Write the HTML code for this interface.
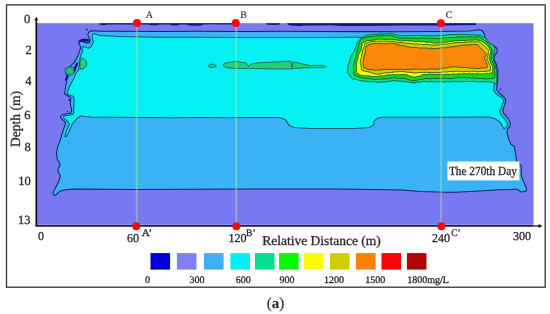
<!DOCTYPE html>
<html><head><meta charset="utf-8"><style>
html,body{margin:0;padding:0;background:#fff;overflow:hidden;}
svg{display:block;filter:blur(0.35px);}
text{font-family:"Liberation Serif","Times New Roman",serif;fill:#2a2a2a;stroke:#2a2a2a;stroke-width:0.3px;text-rendering:geometricPrecision;}
</style></head><body>
<svg width="550" height="314" viewBox="0 0 550 314">
<rect x="0" y="0" width="550" height="314" fill="#fff"/>
<rect x="6.5" y="4.9" width="538.7" height="282.3" fill="none" stroke="#333" stroke-width="1.3"/>
<rect x="37" y="23.2" width="496.5" height="201.6" fill="#7878f2"/>
<polygon points="91.1,30.8 100,31.3 120,31.2 160,31.4 200,31.2 240,31.5 280,31.3 320,31.6 360,31.6 400,31.8 440,31.5 470,31 479,29.8 481.9,30.4 484.3,33.9 485.5,39.8 489,43.4 493.7,45.7 497,48.5 497,52.5 494.9,55.2 493.6,58.5 496.2,64 498,71 497.4,82.6 496.5,89.3 499.3,93.2 504.1,97 505.9,100 504.6,105.1 502.7,110.2 504,114 508.5,119.1 510.4,123.6 509.7,126.8 507.2,129.3 507.2,133.1 509.1,140 511.1,144.5 514.5,146.7 515.6,154.5 516.7,161.2 521.2,165.7 521.2,174.6 522.3,179 524.5,183.5 526.7,189.1 525.6,191.3 521.2,192 516.7,189.1 508.9,189.7 500,189.7 491.5,190.2 470,191.5 455.2,192.2 446,192.2 420.6,191.6 402.5,190 337,189 250,189 137,189.5 73.4,189.1 64.1,190.1 59.3,191.6 55.5,195.4 53,194.5 53.6,191.6 56.5,185.9 59.3,180.2 60.3,175.4 58,171.5 58,168.7 60.3,164.9 57.4,159.1 56.5,153.4 57.4,147.6 60.3,140 62.2,133.4 64.5,126.7 65.6,122.3 61.7,118.9 60.6,116.7 62.8,114.5 70.6,113.3 71.7,110 70.3,104.1 70.9,97.7 67.7,95.8 64.6,93.9 65.4,88 66.5,82.1 67,75.6 66,74 65.4,71.3 67,68.1 70.8,65.9 74.1,62.6 76.2,59.4 77.7,56 78.7,53.7 79.6,50.8 80.6,48 80.1,45.6 78.7,43.7 79.6,41.8 81.6,41.3 84.4,42.2 87.8,43.2 89.7,42.2 90.1,39.4 88.7,37 87.8,34.6 88.7,32.2" fill="#3cb2f6" stroke="#0a2a60" stroke-width="1.05" stroke-linejoin="round"/>
<polygon points="94,33.6 100,35.4 120,36.6 160,37.2 200,37.3 240,37.6 280,37.5 320,37.6 350,37.3 400,37.5 450,37.5 475,37.5 486,40 492,46 494,55 493,65 495,76 494.6,82.6 493.6,90.3 496.5,94.1 501.5,97.5 504,100 502.1,105.1 499.6,111.5 500.8,114.6 505.3,119.7 507.8,124.2 506.6,127.4 504,128.7 502.7,126.8 500.2,122.3 495.7,119.1 490,117.2 485,117 440,117.3 383.6,117.2 377.9,117.9 374.1,121.2 373.6,125 369.3,127.4 355,128.4 310,128.4 294.8,127.4 289.1,125.5 287.7,122.7 285.3,119.8 279.5,117.4 270,117.4 230,117.8 200,117.6 170,117.8 137,117.6 110,117.3 90,116.9 80.6,116 77.3,118.4 73.4,122.3 71.7,125 70,129.5 66.7,136.2 65,136.8 65.6,133.4 67.8,127.8 69.5,123.9 67.3,121.1 63.4,117.8 63.9,116.1 72.8,114.5 73.5,113 74.1,101.6 73.5,96.5 67.1,93.9 69.3,87 71.9,82.1 74.1,77.8 75.7,73.5 78.9,69.7 80,58.3 81.1,54 82.5,51.8 82,48.9 82.5,46.5 85.4,47 88.2,48.4 91.1,46.5 93.5,42.2 92.5,38.4 92,35.1" fill="#04f0f2" stroke="#0b5a70" stroke-width="1.05" stroke-linejoin="round"/>
<polygon points="354.5,51 355.03,48.79 355.93,46.71 356.51,44.52 357.3,42.4 359.3,40.3 361.2,38.1 363.14,37.25 364.87,35.96 366.9,35.3 368.91,34.75 371.01,35.11 373.01,34.49 375.05,34.26 377.15,34.57 379.15,33.99 381.2,33.8 383.56,34.04 385.92,33.78 388.28,33.9 390.64,33.56 393,33.8 395.31,34.52 397.6,35.32 400,35.7 402,35.68 404,35.79 406,35.7 407.99,35.23 410,35.5 412.14,35.68 414.29,35.56 416.43,35.36 418.57,35.17 420.71,35.76 422.86,35.48 425,35.5 427,35.69 429,35.83 431,35.75 433,35.93 435,35.59 437,35.7 439.18,35.76 441.33,35.36 443.52,35.55 445.68,35.36 447.81,34.67 450,34.8 451.99,34.49 453.99,34.48 456.01,34.95 458,34.52 460,34.5 462,34.65 464,34.48 466,34.69 468,34.66 470,34.8 472,34.74 474,34.94 476,34.98 477.99,35.24 480,35 481.94,36.11 483.87,37.27 486,38 487.29,40.39 489,42.5 490.47,43.95 492.26,44.93 494,46 494.73,48.2 495,50.5 494.01,52.93 493.5,55.5 493,58 493.36,60.1 494.06,62.09 495,64 495.45,66.01 495.85,68.04 496.5,70 496.87,71.98 496.6,74.02 497,76 496.78,78.5 496.82,81.01 496.5,83.5 494.26,83.3 492.22,82.26 490,82 488.01,81.58 485.99,82.13 484.01,81.55 482,81.74 480,81.6 477.86,81.83 475.71,81.72 473.57,81.37 471.43,81.28 469.28,81.85 467.14,81.43 465,81.5 462.86,81.86 460.71,81.43 458.57,81.75 456.42,81.4 454.28,81.38 452.14,81.75 450,81.8 447.84,81.42 445.66,81.87 443.5,82 441.33,81.6 439.16,81.96 437,81.6 435,81.8 433,81.63 431,81.47 429,81.77 427,81.84 425,81.5 422.77,81.54 420.62,82.23 418.36,82.08 416.16,82.42 414,83 411.74,82.71 409.5,82.28 407.25,81.86 405,81.5 403.01,81.28 401,81.2 399,81.11 397,80.95 395.02,80.61 393,80.8 390.67,81.13 388.34,81.51 386,81.8 383.62,81.75 381.26,82.18 378.88,82.24 376.5,82.2 374.48,81.67 372.39,81.79 370.33,81.57 368.24,81.74 366.21,81.26 364.16,80.94 362.1,80.8 359.66,80.65 357.37,79.77 354.99,79.28 352.6,78.9 350.76,77.2 349.47,75.04 347.8,73.2 347.78,70.97 347.93,68.73 347.8,66.5 348.34,64.55 349.2,62.71 349.86,60.8 350.02,58.73 350.67,56.82 351.6,55 353.15,53.07" fill="#10dc8c" stroke="#1c4a1c" stroke-opacity="0.8" stroke-width="1" stroke-linejoin="round"/>
<polygon points="357.8,49.1 358.22,46.9 358.73,44.73 359.53,42.63 360.2,40.5 362.48,38.84 365,37.6 367.25,36.92 369.59,36.77 371.95,36.75 374.23,36.29 376.5,35.7 378.56,35.89 380.62,35.51 382.69,35.73 384.75,35.54 386.81,35.47 388.88,35.42 390.94,35.5 393,35.7 395.24,36.78 397.59,37.52 400,38.1 402,38.29 404,38.27 406,37.83 408,37.89 410,38 412.14,38.1 414.28,38.19 416.43,38.29 418.57,38.32 420.72,37.78 422.86,38.16 425,38.1 426.99,38.3 429,38.27 431.01,38.12 433,38.41 435.01,38.23 437,38.6 439.19,38.72 441.35,38.49 443.5,38.08 445.65,37.73 447.86,37.97 450,37.5 452,37.43 454.02,37.53 456.01,37.38 458,37.03 460,36.9 462,36.86 464,37.01 466,36.91 468,36.74 470,37 472,36.9 474,37.3 476.01,36.8 478.01,36.84 480,37.2 481.7,38.47 483.59,39.47 485.24,40.82 487,42 488.12,43.69 489.29,45.34 490.01,47.29 491.58,48.68 492.5,50.5 492.06,52.85 491.7,55.21 491,57.5 491.66,59.78 492.5,62 493.65,64.44 494.5,67 494.73,68.99 494.58,71.01 495,72.99 495,75 494,78.6 492,78.54 490,78.29 488,78.84 486,78.85 484,78.72 482,78.33 480,78.5 477.86,78.28 475.7,78.4 473.56,78.19 471.41,78.15 469.28,77.81 467.12,77.96 465,77.5 462.85,77.51 460.7,77.51 458.55,77.61 456.42,77.91 454.26,77.89 452.17,78.69 450,78.5 447.83,78.66 445.66,78.21 443.5,78.36 441.33,78.63 439.16,78.27 437,78.6 435,78.5 433,78.34 431,78.69 429,78.75 427,78.56 425,78.5 422.85,79.21 420.62,79.5 418.33,79.56 416.22,80.46 414,80.8 411.66,80.56 409.42,79.96 407.19,79.3 405,78.5 403.01,78.2 401,78.4 398.99,78.35 396.99,78.38 395.02,77.66 393,77.9 390.94,78.14 388.89,78.48 386.84,78.77 384.78,78.96 382.71,79.07 380.61,78.9 378.58,79.46 376.5,79.4 374.41,79.51 372.39,78.98 370.31,78.93 368.31,78.2 366.19,78.59 364.16,78.09 362.1,77.9 360.13,77.14 358.03,76.81 356.12,75.85 354,75.6 353.86,73.33 353.57,71.06 353.56,68.78 353.5,66.5 353.66,64.13 354.41,61.89 354.77,59.56 355.69,57.36 355.9,55 356.75,53.1 357.17,51.07" fill="#14d820" stroke="#1c4a1c" stroke-opacity="0.8" stroke-width="1" stroke-linejoin="round"/>
<polygon points="361.2,49.1 361.73,46.26 362.1,43.4 364.59,42.09 366.9,40.5 368.96,40.51 371.02,40.41 373.04,40.07 375.1,39.99 377.08,39.17 379.15,39.28 381.2,39.1 383.55,39.51 385.92,39.4 388.27,39.68 390.65,39.23 393,39.6 395.34,39.98 397.7,40.23 400,40.8 402,40.87 404,40.93 406.01,40.58 408,40.76 410,41 412.15,40.99 414.27,41.58 416.42,41.61 418.59,41.33 420.7,41.92 422.87,41.6 425,42 426.99,42.28 429.03,42.14 431.03,42.25 432.97,43.06 435.02,42.8 437,43.2 439.14,42.72 441.38,42.97 443.53,42.61 445.65,41.92 447.88,42.1 450,41.5 452,41.31 454.01,41.18 455.98,40.63 458.03,40.93 460,40.4 462,40.49 464.01,40.65 466.01,40.56 468,40.1 470,40.2 472.25,40.13 474.5,40.02 476.75,40.03 479,40.3 481.48,41.26 483.73,42.64 486,44 487.19,45.67 488.78,47.04 489.65,48.95 491,50.5 490.44,52.86 489.79,55.2 489,57.5 489.54,59.82 490.5,62 491.51,64.24 492.5,66.5 492.66,68.66 492.58,70.83 492.6,73 490.49,73.02 488.42,73.64 486.27,73.17 484.23,74 482.09,73.66 480,74 477.87,73.69 475.7,74.19 473.58,73.58 471.43,73.81 469.29,73.59 467.13,73.91 465,73.5 462.88,73.96 460.73,74.01 458.55,73.61 456.44,74.28 454.27,74.04 452.12,74.06 450,74.5 447.83,74.19 445.67,74.61 443.5,74.6 441.33,74.48 439.17,74.31 437,74.5 435,74.74 433,74.26 431,74.19 429,74.11 426.99,74.66 425,74.3 422.71,74.64 420.68,75.85 418.43,76.33 416.18,76.79 414,77.5 411.84,76.47 409.46,76.11 407.34,74.97 405,74.5 403,74.49 401,74.66 399,74.68 397,74.79 395,74.88 393,74.6 390.97,75.08 388.86,74.94 386.77,74.97 384.78,75.79 382.72,76.1 380.59,75.69 378.56,76.24 376.5,76.5 374.44,76.44 372.37,76.43 370.33,76.05 368.29,75.76 366.21,75.89 364.15,75.78 362.1,75.6 360.08,75.09 358.41,73.73 356.4,73.2 356.07,71.05 356.4,68.9 356.64,66.75 356.4,64.6 356.62,62.15 357.51,59.83 358.13,57.46 358.3,55 359.35,53.07 360.41,51.16" fill="#f8f810" stroke="#1c4a1c" stroke-opacity="0.8" stroke-width="1" stroke-linejoin="round"/>
<polygon points="363.1,49.1 363.93,47.26 364.58,45.37 365,43.4 367.23,42.76 369.42,41.97 371.7,41.5 374.06,41.03 376.46,41.36 378.82,41.1 381.2,41 383.56,41.24 385.92,41.03 388.28,41.37 390.64,41.08 393,41.3 395.3,41.91 397.64,42.26 400,42.5 402.01,42.64 404,42.93 405.99,43.23 408.02,43.09 410,43.5 412.14,43.68 414.27,44 416.44,43.76 418.56,44.28 420.71,44.34 422.84,44.6 425,44.5 427.01,44.49 429.01,44.42 430.99,45.01 432.99,45.11 435,44.96 437,45.1 439.13,44.55 441.31,44.36 443.51,44.39 445.65,43.89 447.87,44.08 450,43.5 452.01,43.32 453.98,42.81 456.01,42.89 457.99,42.44 460,42.3 462.02,42.5 464.01,42.39 466,42.01 468.01,42 470,41.8 472.01,41.86 474.01,41.86 476.01,41.91 478,41.5 480.18,42.56 482.05,44.09 484,45.5 485.62,47.22 487.43,48.74 489,50.5 488.27,52.82 487.94,55.25 487,57.5 487.5,59.83 488.5,62 489.48,64.26 490.5,66.5 490.52,68.78 490,71 487.99,70.99 486.01,71.33 484.01,71.51 482,71.41 480,71.5 477.86,71.75 475.71,71.7 473.57,71.24 471.43,71.36 469.29,71.84 467.14,71.31 465,71.5 462.86,71.84 460.71,71.62 458.57,71.22 456.43,71.42 454.29,71.64 452.14,71.59 450,71.5 447.84,71.78 445.69,72.16 443.47,71.75 441.36,72.61 439.17,72.55 437,72.7 435,72.49 433,72.7 431.01,72.26 429,72.74 427.01,72.2 425,72.5 422.79,72.33 420.59,72.58 418.39,72.53 416.2,72.94 414,73 412.03,72.53 410.02,72.31 408,72.26 406,72.05 404.02,71.64 401.99,71.61 400,71.3 397.7,71.89 395.31,71.73 393,72.2 390.57,72.61 388.1,72.71 385.63,72.75 383.2,73.2 381,73.73 378.78,74.13 376.5,74.1 374.03,73.65 371.7,72.7 369.32,72.04 366.88,71.59 364.46,71.07 362.1,70.3 361.43,68.08 361.12,65.75 360.2,63.6 360.38,61.42 360.84,59.29 361.51,57.19 361.6,55 362.18,53.05 362.44,51.03" fill="#d0cc08" stroke="#1c4a1c" stroke-opacity="0.8" stroke-width="1" stroke-linejoin="round"/>
<polygon points="365.5,49 366.4,45.8 368.51,44.93 370.7,44.3 373.56,43.61 376.5,43.4 378.73,43.67 380.99,43.43 383.2,43.9 385.65,43.8 388.1,43.56 390.53,43.22 393,43.4 395.33,44.04 397.75,44.35 400,45.3 402.01,45.63 404.06,45.76 406.05,46.16 408.01,46.77 410,47.2 412.13,47.54 414.3,47.17 416.44,47.35 418.57,47.75 420.7,48.08 422.85,47.94 425,48 427,48.04 428.98,48.57 431.02,48.03 432.99,48.72 435.01,48.44 437,48.7 439.13,48.17 441.3,47.87 443.48,47.72 445.7,47.79 447.8,47.06 450,47 452.01,46.8 454.01,46.58 455.99,46.13 458,45.99 460,45.7 461.97,45.22 463.97,45.03 465.98,44.95 468.01,45.11 470,44.8 472.4,44.65 474.79,44.47 477.2,44.5 478.72,46.14 480.36,47.68 481.9,49.3 483.57,50.77 484.89,52.58 486.6,54 485.33,55.93 484.3,58 485.5,60.3 486.44,62.41 486.98,64.65 487.8,66.8 486.6,68 484.45,68.13 482.28,68.04 480.14,68.29 478,68.6 475.82,68.56 473.7,67.9 471.48,68.32 469.33,67.92 467.18,67.5 465,67.5 462.98,67.6 461,67.23 458.98,67.4 457.01,66.82 455,66.8 452.98,66.86 450.99,67.23 448.97,67.26 447.02,67.89 445,68 442.98,68.16 440.99,68.53 438.99,68.84 437,69.2 434.88,69.24 432.75,68.99 430.62,68.93 428.5,69.27 426.37,69.15 424.25,69.58 422.12,69.15 420,69.3 418,69.2 416,68.95 414,69.07 412,69.45 410,69.38 408,69.18 406,69.63 404,69.33 402,69.53 400,69.3 398,69.57 396,69.61 394,69.11 392,69.56 390,69.48 388,69.38 386,69.3 383.6,69.29 381.28,70.09 378.88,70.09 376.5,70.3 374.35,70.14 372.22,69.78 370.06,69.7 367.9,69.8 365.87,68.38 363.6,67.4 363.2,65.02 363.1,62.6 363.51,60.06 363.94,57.52 364.5,55 365.1,53.04 365.48,51.05" fill="#fb8608" stroke="#1c4a1c" stroke-opacity="0.8" stroke-width="1" stroke-linejoin="round"/>
<polygon points="222.5,64.7 226,63 230.7,62.3 235.5,61.3 241.4,62.3 246.1,63 248.5,66.5 250.8,64.2 256.7,63 268.6,62.3 280.4,61.8 291,61.1 292.2,67.6 293.4,61.8 301.7,63.7 308.7,65.4 322.9,65.4 325.8,66.5 322.9,67.7 308.7,67.7 294.6,68.4 289.8,68.9 270.9,68.9 252,68.4 235.5,68.4 226,67.7" fill="#22d07c" stroke="#1a5a3a" stroke-width="0.8"/>
<polygon points="208.3,65.8 211,64.2 214.5,64.4 216.4,66.2 213,67.5 209.5,67.2" fill="#10dc8c" stroke="#1a5a3a" stroke-width="0.8"/>
<polygon points="99.5,23.2 236,23.2 236,24.3 225,24.4 212,24.3 203,24.5 201,25.5 196,25.7 190,25.4 186,24.5 180,24.6 177,25.6 172,25.5 169,24.5 160,24.5 156,25.3 151,25.2 148,24.4 120,24.6 108,24.5 104,25.3 99.5,24.8" fill="#12128c"/>
<polygon points="266,23.2 280,23.2 280,24.6 275,25.1 268,24.8 266,24.2" fill="#12128c"/>
<polygon points="287,23.2 476,23.2 476,25.1 440,25.6 395,25.6 388,25.8 360,26.1 340,26 332,25.3 318,25.6 305,25.4 300,25.9 292,25.7 288,24.8" fill="#12128c"/>
<path d="M80.9,58.3 C84.8,58 86.9,61.5 86.6,64 C86.4,67 84,69.3 80.6,69.2 C79.6,66 79.6,62 80.9,58.3 Z" fill="#22c890" stroke="#145a40" stroke-width="0.8"/>
<path d="M82,60.5 C84.6,61 85.6,63.2 85.4,64.8 C85.1,66.6 83.8,67.6 82.1,67.4 C81.4,65 81.4,63 82,60.5 Z" fill="#28d860"/>
<path d="M65.2,68.6 C68,66.5 72.5,66.5 75.4,68.2 C75.6,71.5 73.5,74.8 70,75.3 C67.5,75.3 65.5,73.5 65,71.5 Z" fill="#1eb08c" stroke="#145a40" stroke-width="0.8"/>
<path d="M68.2,70 C70,68.8 72.2,69 72.8,70.6 C72.6,72.3 71,73.3 69,73 Z" fill="#28c868"/>
<path d="M76.8,62 L78.6,63.2 L76.3,68.5 L75,72 L73.2,71 L74.4,66.5 Z" fill="#12128c"/>
<path d="M67.8,74.6 L69,76.2 L67,80.5 L65.1,80.8 L65.3,78.3 Z" fill="#12128c"/>
<path d="M78.6,40.6 C80.8,38.6 86,38.2 89.6,39.4 L89.8,41.6 C86.5,42.2 83.5,41.6 81.6,41.7 C80.5,41.9 79.6,42.4 79,42.8 Z" fill="#12128c"/>
<circle cx="86.8" cy="29.6" r="0.9" fill="#12128c"/>
<circle cx="69.3" cy="99.9" r="1" fill="#12128c"/>
<circle cx="67.5" cy="111.5" r="0.6" fill="#12128c"/>
<circle cx="500.3" cy="89.3" r="0.8" fill="#12128c"/>
<circle cx="506" cy="114.2" r="0.5" fill="#12128c"/>
<rect x="447.4" y="161.5" width="72" height="18.9" fill="#fff"/>
<line x1="136.7" y1="23" x2="136.7" y2="226" stroke="#b0e8a0" stroke-opacity="0.45" stroke-width="1.9"/>
<line x1="236.2" y1="23" x2="236.2" y2="226" stroke="#b0e8a0" stroke-opacity="0.45" stroke-width="1.9"/>
<line x1="441.2" y1="23" x2="441.2" y2="226" stroke="#b0e8a0" stroke-opacity="0.45" stroke-width="1.9"/>
<line x1="36.3" y1="226" x2="36.3" y2="19" stroke="#111" stroke-width="1.7"/>
<polygon points="36.3,16.8 34.3,20.2 38.3,20.2" fill="#111"/>
<line x1="35.4" y1="225.9" x2="533.5" y2="225.9" stroke="#1c1c50" stroke-width="1.7"/>
<line x1="533.5" y1="226" x2="540" y2="226" stroke="#111" stroke-width="1.2"/>
<polygon points="542.4,226 538.6,224.1 538.6,227.9" fill="#111"/>
<circle cx="137" cy="23.1" r="4" fill="#f80a0a"/>
<circle cx="235.8" cy="23" r="4" fill="#f80a0a"/>
<circle cx="440.9" cy="23.3" r="4" fill="#f80a0a"/>
<circle cx="136.3" cy="226.2" r="4" fill="#f80a0a"/>
<circle cx="236.4" cy="226.2" r="4" fill="#f80a0a"/>
<circle cx="441.4" cy="226.2" r="4" fill="#f80a0a"/>
<rect x="150.5" y="253.1" width="19.6" height="16.5" fill="#0000d8"/>
<rect x="176.9" y="253.1" width="19.6" height="16.5" fill="#8080f6"/>
<rect x="204" y="253.1" width="19.6" height="16.5" fill="#40b0f6"/>
<rect x="230.4" y="253.1" width="19.6" height="16.5" fill="#00f0f6"/>
<rect x="254.9" y="253.1" width="19.6" height="16.5" fill="#04e090"/>
<rect x="279.1" y="253.1" width="19.6" height="16.5" fill="#04f804"/>
<rect x="304" y="253.1" width="19.6" height="16.5" fill="#fcfc04"/>
<rect x="330" y="253.1" width="19.6" height="16.5" fill="#d0d000"/>
<rect x="356" y="253.1" width="19.6" height="16.5" fill="#fc8004"/>
<rect x="381.5" y="253.1" width="19.6" height="16.5" fill="#f80404"/>
<rect x="406.9" y="253.1" width="19.6" height="16.5" fill="#b00404"/>
<text x="27.1" y="22.8" font-size="12.5" text-anchor="middle" font-weight="normal">0</text>
<text x="28.7" y="54" font-size="12.5" text-anchor="middle" font-weight="normal">2</text>
<text x="28.3" y="85.3" font-size="12.5" text-anchor="middle" font-weight="normal">4</text>
<text x="27.3" y="119.3" font-size="12.5" text-anchor="middle" font-weight="normal">6</text>
<text x="27.7" y="151" font-size="12.5" text-anchor="middle" font-weight="normal">8</text>
<text x="24.6" y="184.7" font-size="12.5" text-anchor="middle" font-weight="normal">10</text>
<text x="24.2" y="224.4" font-size="12.5" text-anchor="middle" font-weight="normal">13</text>
<text x="41" y="240.4" font-size="12" text-anchor="middle" font-weight="normal">0</text>
<text x="133" y="241.6" font-size="12" text-anchor="middle" font-weight="normal">60</text>
<text x="237.5" y="241.7" font-size="12" text-anchor="middle" font-weight="normal">120</text>
<text x="441" y="241.7" font-size="12" text-anchor="middle" font-weight="normal">240</text>
<text x="522" y="240.3" font-size="12" text-anchor="middle" font-weight="normal">300</text>
<text x="141.7" y="235.6" font-size="10" text-anchor="start" font-weight="normal" textLength="10.4" lengthAdjust="spacingAndGlyphs">A’</text>
<text x="246.1" y="235.6" font-size="10" text-anchor="start" font-weight="normal" textLength="9.6" lengthAdjust="spacingAndGlyphs">B’</text>
<text x="451.3" y="235.6" font-size="10" text-anchor="start" font-weight="normal" textLength="9.4" lengthAdjust="spacingAndGlyphs">C’</text>
<text x="145.8" y="18.2" font-size="10" text-anchor="start" font-weight="normal" style="stroke-width:0.1px">A</text>
<text x="240.3" y="18.2" font-size="10" text-anchor="start" font-weight="normal" style="stroke-width:0.1px">B</text>
<text x="445.7" y="18.2" font-size="10" text-anchor="start" font-weight="normal" style="stroke-width:0.1px">C</text>
<text x="262.2" y="244.6" font-size="13.4" text-anchor="start" font-weight="normal" textLength="118.6" lengthAdjust="spacingAndGlyphs">Relative Distance (m)</text>
<text transform="translate(20.2,119) rotate(-90)" x="0" y="0" font-size="14" font-weight="normal" text-anchor="middle" textLength="56" lengthAdjust="spacingAndGlyphs">Depth (m)</text>
<text x="448.9" y="174.8" font-size="12.4" text-anchor="start" font-weight="normal" textLength="68" lengthAdjust="spacingAndGlyphs">The 270th Day</text>
<text x="145" y="282.9" font-size="10" text-anchor="start" font-weight="normal">0</text>
<text x="189.5" y="282.9" font-size="10" text-anchor="start" font-weight="normal">300</text>
<text x="235.8" y="282.9" font-size="10" text-anchor="start" font-weight="normal">600</text>
<text x="279.4" y="282.9" font-size="10" text-anchor="start" font-weight="normal">900</text>
<text x="324" y="282.9" font-size="10" text-anchor="start" font-weight="normal">1200</text>
<text x="365.3" y="282.9" font-size="10" text-anchor="start" font-weight="normal">1500</text>
<text x="407.2" y="282.9" font-size="10" text-anchor="start" font-weight="normal">1800mg/L</text>
<text x="266.8" y="308" font-size="15" style="stroke-width:0.15px">(<tspan font-weight="bold">a</tspan>)</text>
</svg>
</body></html>
